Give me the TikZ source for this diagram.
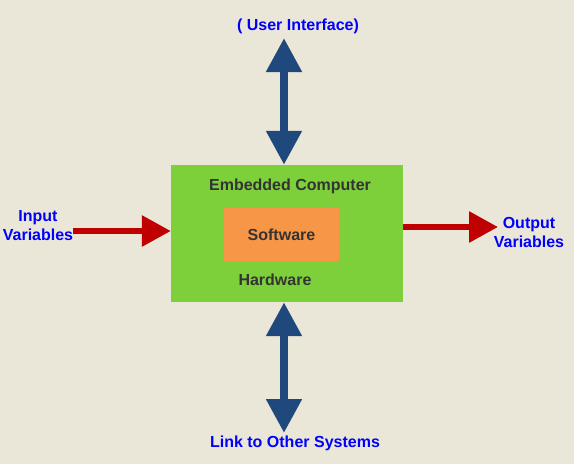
\documentclass[tikz,border=0pt]{standalone}
\usepackage{xcolor}
\usepackage{fontspec}
\setmainfont{Liberation Sans}
\usetikzlibrary{arrows.meta}

\definecolor{bgbeige}{RGB}{235,231,216}
\definecolor{hwgreen}{RGB}{126,208,59}
\definecolor{sworange}{RGB}{247,150,70}
\definecolor{linkblue}{RGB}{31,73,125}
\definecolor{iored}{RGB}{192,0,0}
\definecolor{txtgray}{RGB}{51,51,51}

\begin{document}
\begin{tikzpicture}[x=1pt,y=-1pt,
    lab/.style={text=blue,font=\fontsize{16}{19}\selectfont\bfseries,align=center,inner sep=0pt},
    intext/.style={text=txtgray,font=\fontsize{16}{19}\selectfont\bfseries,inner sep=0pt},
    busarrow/.style={linkblue,line width=8pt,{Triangle[length=34pt,width=34pt]}-{Triangle[length=34pt,width=34pt]}},
    ioarrow/.style={iored,line width=6pt,-{Triangle[length=29pt,width=30pt]}}]

    % background
    \fill[bgbeige] (0,0) rectangle (574,464);
    \useasboundingbox (0,0) rectangle (574,464);

    % the embedded computer
    \node[fill=hwgreen,minimum width=232pt,minimum height=137pt,inner sep=0pt] (hw) at (287,233.5) {};
    \node[fill=sworange,minimum width=115pt,minimum height=53pt,intext] (sw) at (281.5,234.5) {Software};
    \node[intext] (ec) at (290,186) {Embedded Computer};
    \node[intext] (hwlab) at (275,280) {Hardware};

    % labels round it
    \node[lab] (ui) at (298,26) {( User Interface)};
    \node[lab] (link) at (295,443) {Link to Other Systems};
    \node[lab] (inputs) at (38,226) {Input\\Variables};
    \node[lab] (outputs) at (529,232) {Output\\Variables};

    % end points of the arrows
    \coordinate (uitip) at (284,38);
    \coordinate (linktip) at (284,433);
    \coordinate (instart) at (73,231);
    \coordinate (outend) at (498,227);

    % arrows
    \draw[busarrow] (uitip) -- (hw.north -| uitip);
    \draw[busarrow] (hw.south -| linktip) -- (linktip);
    \draw[ioarrow] (instart) -- (hw.west |- instart);
    \draw[ioarrow] (hw.east |- outend) -- (outend);

\end{tikzpicture}
\end{document}
